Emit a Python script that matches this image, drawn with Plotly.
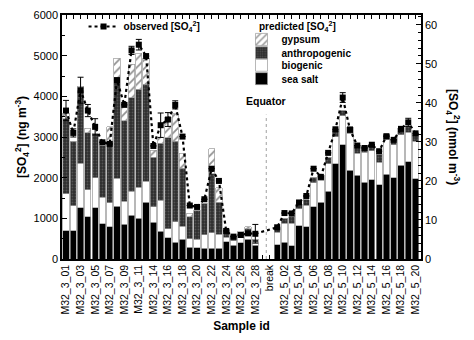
import plotly.graph_objects as go

# Sample identifiers along the cruise track (two legs separated by a break)
sample_ids = [
    "M32_3_01", "M32_3_02", "M32_3_03", "M32_3_04", "M32_3_05", "M32_3_06",
    "M32_3_07", "M32_3_08", "M32_3_09", "M32_3_10", "M32_3_11", "M32_3_12",
    "M32_3_14", "M32_3_15", "M32_3_16", "M32_3_17", "M32_3_18", "M32_3_19",
    "M32_3_20", "M32_3_21", "M32_3_22", "M32_3_23", "M32_3_24", "M32_3_25",
    "M32_3_26", "M32_3_27", "M32_3_28", "", "break",
    "M32_5_01", "M32_5_02", "M32_5_03", "M32_5_04", "M32_5_05", "M32_5_06",
    "M32_5_07", "M32_5_08", "M32_5_09", "M32_5_10", "M32_5_11", "M32_5_12",
    "M32_5_13", "M32_5_14", "M32_5_15", "M32_5_16", "M32_5_17", "M32_5_18",
    "M32_5_19", "M32_5_20",
]

# Predicted sulphate source contributions (ng m-3)
sea_salt = [690, 700, 1260, 1040, 1260, 870, 790, 1300, 850, 1080, 1000, 1400,
            900, 680, 520, 410, 480, 290, 275, 265, 268, 268, 420, 340, 400, 490, 340,
            None, None,
            350, 410, 330, 820, 790, 1290, 1390, 1670, 2340, 2810, 2180, 2060,
            1890, 1950, 1830, 2080, 2000, 2300, 2390, 1970]
biogenic = [920, 610, 1090, 660, 740, 650, 590, 690, 570, 580, 770, 510,
            380, 770, 220, 510, 330, 210, 215, 335, 377, 340, 120, 110, 120, 125, 70,
            None, None,
            310, 470, 550, 420, 530, 580, 550, 670, 670, 710, 910, 540,
            740, 710, 550, 850, 810, 750, 730, 920]
anthropogenic = [1840, 1590, 1800, 1400, 1080, 1260, 1520, 2360, 1980, 2300, 2400, 2390,
                 1220, 1400, 2240, 1980, 1425, 540, 710, 770, 1455, 790, 180, 110, 100, 125, 60,
                 None, None,
                 100, 120, 160, 120, 140, 140, 120, 160, 160, 120, 160, 190,
                 140, 160, 200, 140, 130, 160, 130, 160]
gypsum = [150, 0, 100, 120, 0, 100, 350, 590, 450, 830, 890, 650,
          180, 130, 510, 670, 365, 80, 0, 0, 610, 350, 20, 30, 60, 50, 10,
          None, None,
          0, 0, 0, 0, 0, 0, 0, 0, 0, 0, 0, 0,
          0, 0, 0, 0, 0, 0, 0, 0]

# Observed sulphate (ng m-3) and its uncertainty
observed = [3650, 3100, 4150, 3650, 3250, 2870, 2830, 4400, 3790, 5130, 5270, 4990,
            2780, 3290, 3430, 3790, 3010, 1315, 1280, 1470, 2220, 1920, 690, 550, 590, 630, 620,
            None, None,
            780, 1130, 1120, 1390, 1550, 2220, 2020, 2610, 3190, 3970, 3180, 2790,
            2730, 2810, 2650, 3020, 2930, 3200, 3360, 3090]
observed_err = [250, 100, 320, 150, 200, 0, 0, 0, 0, 100, 130, 0,
                0, 300, 170, 100, 0, 0, 0, 0, 0, 0, 0, 0, 0, 0, 230,
                None, None,
                0, 0, 0, 0, 0, 0, 0, 0, 0, 120, 0, 0,
                0, 0, 0, 0, 0, 0, 100, 0]

equator_pos = 27.5
ng_per_nmol = 96.0

x = list(range(len(sample_ids)))
# every second sample carries a label; the others only get a tick mark
label_pos = x[::2]
label_text = sample_ids[::2]

FONT = "Liberation Sans, Arial, sans-serif"
edge = dict(color="#9a9a9a", width=0.7)
legend_font = dict(size=10, family=FONT, weight="bold", color="black")


def px_to_paper(ypx, top=9, height=255):
    return 1 - (ypx - top) / height


fig = go.Figure()

fig.add_trace(go.Bar(
    x=x, y=sea_salt, name="sea salt", legend="legend5",
    marker=dict(color="black", line=edge)))
fig.add_trace(go.Bar(
    x=x, y=biogenic, name="biogenic", legend="legend4",
    marker=dict(color="white", line=edge)))
fig.add_trace(go.Bar(
    x=x, y=anthropogenic, name="anthropogenic", legend="legend3",
    marker=dict(color="#383838", line=edge,
                pattern=dict(shape=".", fgcolor="#7a7a7a", bgcolor="#2e2e2e",
                             size=3, solidity=0.3))))
fig.add_trace(go.Bar(
    x=x, y=gypsum, name="gypsum", legend="legend",
    marker=dict(color="white", line=edge,
                pattern=dict(shape="/", fgcolor="#222222", bgcolor="white",
                             size=6, solidity=0.3))))

fig.add_trace(go.Scatter(
    x=x, y=observed, name="observed [SO<sub>4</sub><sup>2</sup>]",
    mode="lines+markers", connectgaps=True, legend="legend2",
    line=dict(color="black", width=2.2, dash="dot"),
    marker=dict(symbol="square", size=6, color="black"),
    error_y=dict(type="data", array=observed_err, visible=True,
                 color="black", thickness=1, width=3)))

# carrier for the secondary (nmol) axis
fig.add_trace(go.Scatter(x=[None], y=[None], yaxis="y2", showlegend=False,
                         hoverinfo="skip"))

fig.add_shape(type="line", x0=equator_pos, x1=equator_pos, y0=0, y1=3550,
              xref="x", yref="y", line=dict(color="#a0a0a0", width=1, dash="dot"))
fig.add_annotation(x=equator_pos, y=3880, xref="x", yref="y", text="<b>Equator</b>",
                   showarrow=False, font=dict(size=10.5, color="black", family=FONT))
fig.add_annotation(x=0.543, y=px_to_paper(21), xref="paper", yref="paper",
                   xanchor="left", yanchor="middle",
                   text="<b>predicted [SO<sub>4</sub><sup>2</sup>]</b>",
                   showarrow=False, font=dict(size=10, color="black", family=FONT))
fig.add_annotation(x=1.0, y=0.5, xref="paper", yref="paper", xshift=43,
                   text="<b>[SO<sub>4</sub><sup>2</sup>] (nmol m<sup>-3</sup>)</b>",
                   textangle=90, showarrow=False,
                   font=dict(size=12, color="black", family=FONT))

axis_common = dict(showline=True, linecolor="black", linewidth=1.5,
                   ticks="inside", tickcolor="black", showgrid=False, zeroline=False,
                   tickfont=dict(size=11, color="black", family=FONT))


def one_item_legend(ypx, xpos=0.5):
    return dict(x=xpos, y=px_to_paper(ypx), xanchor="left", yanchor="middle",
                bgcolor="rgba(0,0,0,0)", font=legend_font)


fig.update_layout(
    width=474, height=340,
    margin=dict(l=62, r=53, t=9, b=76),
    paper_bgcolor="white", plot_bgcolor="white",
    barmode="stack", bargap=0.14,
    font=dict(family=FONT, color="black"),
    xaxis=dict(axis_common, range=[-0.55, 48.75], tickmode="array",
               tickvals=label_pos, ticktext=label_text, tickangle=-90, ticklen=4,
               mirror="ticks",
               minor=dict(ticks="inside", tickmode="linear", tick0=0, dtick=1,
                          ticklen=4, tickcolor="black"),
               tickfont=dict(size=10.5, color="black", family=FONT),
               title=dict(text="<b>Sample id</b>", font=dict(size=12, family=FONT),
                          standoff=8)),
    yaxis=dict(axis_common, range=[0, 6000], dtick=1000, ticklen=5,
               minor=dict(ticks="inside", dtick=500, ticklen=3, tickcolor="black"),
               title=dict(text="<b>[SO<sub>4</sub><sup>2</sup>] (ng m<sup>-3</sup>)</b>",
                          font=dict(size=12, family=FONT), standoff=4)),
    yaxis2=dict(axis_common, overlaying="y", side="right",
                range=[0, 6000 / ng_per_nmol], dtick=10, ticklen=5,
                minor=dict(ticks="inside", dtick=2, ticklen=3, tickcolor="black")),
    legend=one_item_legend(34.5),
    legend3=one_item_legend(48.5),
    legend4=one_item_legend(61.5),
    legend5=one_item_legend(75.5),
    legend2=dict(x=0.06, y=px_to_paper(21), xanchor="left", yanchor="middle",
                 bgcolor="rgba(0,0,0,0)", font=legend_font),
)

fig.write_html("out.html")
